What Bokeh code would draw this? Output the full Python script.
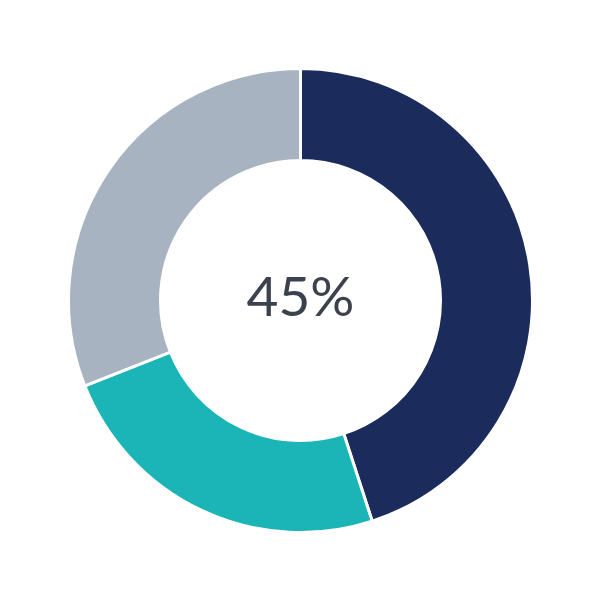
import numpy as np
from bokeh.plotting import figure
from bokeh.models import ColumnDataSource
from bokeh.core.properties import value
from bokeh.embed import file_html
from bokeh.resources import INLINE

# share of each segment, clockwise from the top
labels = ["A", "B", "C"]
shares = [45, 24, 31]
colors = ["#1b2b5b", "#1bb4b7", "#a8b3c2"]
center_label = "45%"

total = sum(shares)
ends = np.cumsum(shares) / total * 2 * np.pi
starts = np.concatenate([[0], ends[:-1]])

source = ColumnDataSource(dict(
    label=labels,
    start=np.pi / 2 - starts,
    end=np.pi / 2 - ends,
    color=colors,
))

# ranges in pixel units, ring centred 300px from the top-left corner
p = figure(width=584, height=584, x_range=(-300, 284), y_range=(-284, 300),
           output_backend="svg", toolbar_location=None, min_border=0)
p.axis.visible = False
p.grid.visible = False
p.outline_line_color = None

p.annular_wedge(x=0, y=0, inner_radius=140, outer_radius=232,
                start_angle="start", end_angle="end", direction="clock",
                fill_color="color", line_color="white", line_width=3,
                source=source)

p.text(x=[0], y=[6], text=[center_label], text_align="center", text_baseline="middle",
       text_font=value("Lato"), text_font_size="55px", text_color="#3b414d")

open("out.html", "w").write(file_html(p, INLINE))
